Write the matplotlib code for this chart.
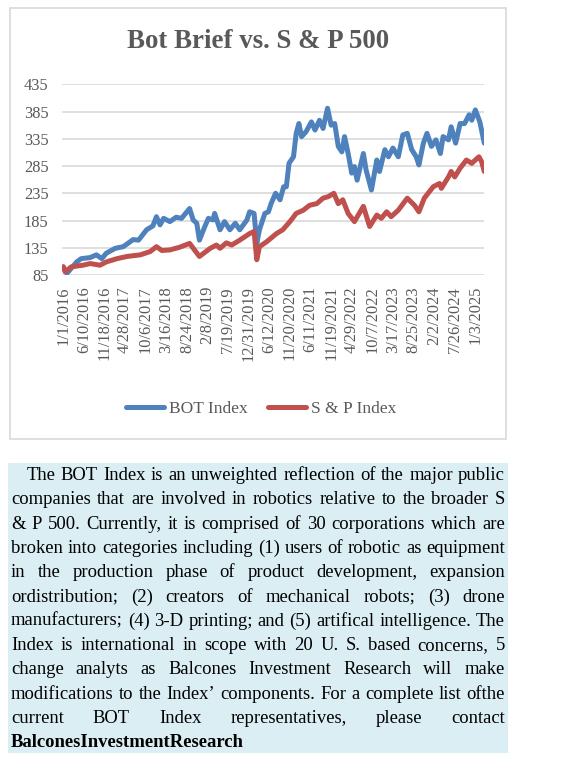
import matplotlib.pyplot as plt
import matplotlib.patches as mpatches
import numpy as np

# tick labels on the category axis (one every 23 weekly points)
tick_labels = ['1/1/2016', '6/10/2016', '11/18/2016', '4/28/2017', '10/6/2017',
               '3/16/2018', '8/24/2018', '2/8/2019', '7/19/2019', '12/31/2019',
               '6/12/2020', '11/20/2020', '6/11/2021', '11/19/2021', '4/29/2022',
               '10/7/2022', '3/17/2023', '8/25/2023', '2/2/2024', '7/26/2024',
               '1/3/2025']
tick_step = 23

# BOT index, read at turning points (week number, value)
bot_week = [0, 4, 15, 20, 30, 37, 43, 48, 58, 67, 78, 84, 93, 100, 104, 108, 112,
            119, 126, 132, 138, 141, 145, 149, 152, 158, 162, 167, 169, 175, 180,
            186, 192, 197, 205, 208, 213, 216, 219, 225, 229, 232, 237, 242, 246,
            249, 252, 257, 260, 263, 266, 271, 277, 281, 286, 290, 295, 299, 303,
            307, 311, 314, 318, 322, 325, 328, 335, 338, 344, 350, 353, 359, 363,
            368, 374, 379, 384, 389, 394, 397, 402, 406, 411, 416, 421, 424, 430,
            433, 438, 443, 448, 453, 456, 460, 465, 470]
bot_vals = [100, 88, 109, 115, 117, 122, 115, 125, 134, 137, 150, 149, 168, 175,
            192, 177, 189, 183, 191, 189, 201, 207, 186, 180, 149, 174, 189, 186,
            198, 168, 183, 168, 180, 168, 186, 201, 198, 143, 168, 198, 201, 216,
            235, 223, 247, 247, 290, 302, 345, 363, 339, 348, 366, 351, 369, 354,
            391, 360, 363, 321, 311, 339, 308, 272, 284, 259, 308, 278, 241, 296,
            275, 315, 302, 318, 302, 342, 345, 315, 302, 287, 327, 345, 321, 333,
            308, 339, 333, 357, 327, 363, 363, 379, 369, 388, 366, 327]

# S & P index (week number, value)
spx_week = [0, 2, 9, 22, 30, 41, 48, 60, 71, 86, 97, 104, 110, 119, 130, 141, 152,
            164, 171, 175, 182, 188, 197, 208, 213, 216, 219, 227, 238, 245, 253,
            260, 268, 275, 283, 290, 296, 302, 307, 312, 318, 325, 335, 342, 350,
            355, 361, 366, 374, 384, 392, 397, 403, 413, 420, 422, 430, 433, 437,
            443, 450, 456, 464, 467, 470]
spx_vals = [100, 91, 100, 103, 106, 103, 109, 115, 119, 122, 128, 137, 130, 131,
            136, 143, 119, 134, 140, 134, 144, 140, 149, 161, 165, 113, 137, 146,
            161, 168, 183, 198, 204, 213, 216, 226, 229, 235, 216, 223, 198, 183,
            211, 174, 195, 189, 201, 192, 204, 226, 213, 201, 226, 247, 253, 244,
            265, 275, 265, 281, 296, 290, 302, 293, 275]

y_ticks = [85, 135, 185, 235, 285, 335, 385, 435]

paragraph = [
    "The BOT Index is an unweighted reflection of the major public",
    "companies that are involved in robotics relative to the broader S",
    "& P 500. Currently, it is comprised of 30 corporations which are",
    "broken into categories including (1) users of robotic as equipment",
    "in the production phase of product development, expansion",
    "ordistribution; (2) creators of mechanical robots; (3) drone",
    "manufacturers; (4) 3-D printing; and (5) artifical intelligence. The",
    "Index is international in scope with 20 U. S. based concerns, 5",
    "change analyts as Balcones Investment Research will make",
    "modifications to the Index\u2019 components. For a  complete list ofthe",
    "current BOT Index representatives, please contact",
]
last_line = "BalconesInvestmentResearch"

W, H = 577, 757
serif = ['Liberation Serif', 'DejaVu Serif']
gray = '#595959'

fig = plt.figure(figsize=(W / 100, H / 100), dpi=100)

# chart frame
fig.patches.append(mpatches.Rectangle((10 / W, 1 - 439 / H), 496 / W, 431 / H,
                                      transform=fig.transFigure, fill=False,
                                      edgecolor='#D9D9D9', linewidth=1.2))

ax = fig.add_axes([62.3 / W, 1 - 275 / H, 422 / W, 190.7 / H])
ax.plot(bot_week, bot_vals, color='#4F81BD', linewidth=3.6,
        solid_joinstyle='round', solid_capstyle='round', label='BOT Index', zorder=3)
ax.plot(spx_week, spx_vals, color='#C0504D', linewidth=3.6,
        solid_joinstyle='round', solid_capstyle='round', label='S & P Index', zorder=3)

ax.set_xlim(-1.1, 470)
ax.set_ylim(85, 435)
ax.set_yticks(y_ticks)
ax.set_xticks(np.arange(len(tick_labels)) * tick_step)
ax.set_xticklabels(tick_labels, rotation=90)
ax.grid(axis='y', color='#D9D9D9', linewidth=1.2, zorder=0)
for s in ax.spines.values():
    s.set_visible(False)
ax.tick_params(length=0, colors=gray, labelsize=11.8)
ax.tick_params(axis='y', pad=10)
ax.tick_params(axis='x', pad=8)
for lab in ax.get_xticklabels() + ax.get_yticklabels():
    lab.set_family(serif)
    lab.set_color(gray)

fig.text(258 / W, 1 - 41 / H, 'Bot Brief vs. S & P 500', ha='center', va='center',
         fontsize=19.4, fontweight='bold', color=gray, family=serif)

leg = fig.legend(loc='center', bbox_to_anchor=(261 / W, 1 - 409 / H), ncol=2,
                 frameon=False, prop={'family': serif, 'size': 12.5},
                 handlelength=2.2, columnspacing=1.2, handletextpad=0.25)
for t in leg.get_texts():
    t.set_color(gray)

# text box
fig.patches.append(mpatches.Rectangle((8.3 / W, 1 - 753 / H), 500 / W, 290 / H,
                                      transform=fig.transFigure, facecolor='#DBEEF4',
                                      edgecolor='none', zorder=0))

renderer = fig.canvas.get_renderer()
left, right = 11.0, 505.0
indent = 15.5
base0, step = 480.0, 24.3


def text_width(s, fs, weight='normal'):
    t = fig.text(0, 0, s, fontsize=fs, family=serif, fontweight=weight)
    bb = t.get_window_extent(renderer)
    t.remove()
    return bb.width


# largest size at which every line still fits the box width
fsize = 14.5
while fsize > 10:
    ok = True
    for i, line in enumerate(paragraph):
        avail = right - left - (indent if i == 0 else 0)
        if text_width(line, fsize) > avail:
            ok = False
            break
    if ok:
        break
    fsize -= 0.1

for i, line in enumerate(paragraph):
    words = line.split()
    x0 = left + (indent if i == 0 else 0)
    widths = [text_width(w, fsize) for w in words]
    gap = (right - x0 - sum(widths)) / (len(words) - 1)
    x = x0
    y = 1 - (base0 + i * step) / H
    for w, wd in zip(words, widths):
        fig.text(x / W, y, w, fontsize=fsize, family=serif, color='black',
                 ha='left', va='baseline')
        x += wd + gap

fig.text(left / W, 1 - (base0 + len(paragraph) * step) / H, last_line,
         fontsize=fsize, family=serif, fontweight='bold', color='black',
         ha='left', va='baseline')

fig.savefig('out.png', dpi=100)
